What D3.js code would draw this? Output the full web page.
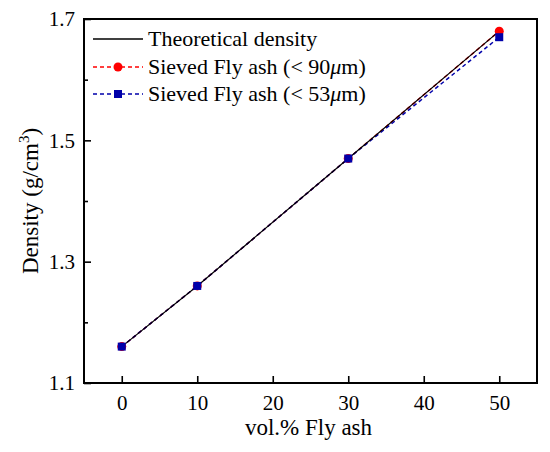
<!DOCTYPE html>
<html><head><meta charset="utf-8">
<script src="https://cdn.jsdelivr.net/npm/d3@7"></script>
<style>body{margin:0;background:#fff}svg{display:block}text{font-family:"Liberation Serif","Times New Roman",serif}</style>
</head><body><svg id="c" width="550" height="452"></svg>
<script>
const xValues = [0, 10, 30, 50];
const theoretical = [1.16, 1.26, 1.47, 1.68];
const sieved90 = [1.16, 1.26, 1.47, 1.68];
const sieved53 = [1.16, 1.26, 1.47, 1.67];
const xTicks = [0, 10, 20, 30, 40, 50];
const yTicks = [1.1, 1.3, 1.5, 1.7];
const yMinor = [1.2, 1.4, 1.6];
const legendLabels = ["Theoretical density", "Sieved Fly ash (< 90", "Sieved Fly ash (< 53"];

const svg = d3.select("#c");
const L = 84, R = 537, T = 19, B = 383;
const x = d3.scaleLinear().domain([-5, 55]).range([L, R]);
const y = d3.scaleLinear().domain([1.1, 1.7]).range([B, T]);

// frame
svg.append("rect").attr("x", L).attr("y", T).attr("width", R - L).attr("height", B - T)
  .attr("fill", "none").attr("stroke", "#000").attr("stroke-width", 2);

// x axis
const xa = svg.append("g").attr("transform", `translate(0,${B})`)
  .call(d3.axisBottom(x).tickValues(xTicks).tickSizeInner(-7).tickSizeOuter(0).tickPadding(12).tickFormat(d3.format("d")));
xa.select(".domain").remove();
xa.selectAll("line").attr("stroke-width", 1.6);
xa.selectAll("text").attr("font-size", 21).attr("fill", "#000").attr("font-family", "Liberation Serif");

const ya = svg.append("g").attr("transform", `translate(${L},0)`)
  .call(d3.axisLeft(y).tickValues(yTicks).tickSizeInner(-7).tickSizeOuter(0).tickPadding(9).tickFormat(d3.format(".1f")));
ya.select(".domain").remove();
ya.selectAll("line").attr("stroke-width", 1.6);
ya.selectAll("text").attr("font-size", 21).attr("fill", "#000").attr("font-family", "Liberation Serif");

const ym = svg.append("g").attr("transform", `translate(${L},0)`)
  .call(d3.axisLeft(y).tickValues(yMinor).tickSizeInner(-4).tickSizeOuter(0).tickFormat(""));
ym.select(".domain").remove();
ym.selectAll("line").attr("stroke-width", 1.6);

// axis labels
svg.append("text").attr("x", (L + R) / 2 - 2).attr("y", 435).attr("text-anchor", "middle")
  .attr("font-size", 23).text("vol.% Fly ash");
const yl = svg.append("text").attr("transform", `translate(38,${(T + B) / 2}) rotate(-90)`)
  .attr("text-anchor", "middle").attr("font-size", 23);
yl.append("tspan").text("Density (g/cm");
yl.append("tspan").attr("font-size", 15).attr("dy", -9).text("3");
yl.append("tspan").attr("dy", 9).text(")");

const line = d3.line().x((d, i) => x(xValues[i])).y(d => y(d));

svg.append("path").datum(sieved90).attr("d", line).attr("fill", "none")
  .attr("stroke", "#ff0000").attr("stroke-width", 1.5).attr("stroke-dasharray", "4,3");
svg.append("path").datum(sieved53).attr("d", line).attr("fill", "none")
  .attr("stroke", "#0000aa").attr("stroke-width", 1.5).attr("stroke-dasharray", "4,3");
svg.append("path").datum(theoretical).attr("d", line).attr("fill", "none")
  .attr("stroke", "#000").attr("stroke-width", 1.2);

svg.selectAll(".c90").data(sieved90).enter().append("circle")
  .attr("cx", (d, i) => x(xValues[i])).attr("cy", d => y(d)).attr("r", 4.5).attr("fill", "#ff0000");
svg.selectAll(".s53").data(sieved53).enter().append("rect")
  .attr("x", (d, i) => x(xValues[i]) - 4).attr("y", d => y(d) - 4).attr("width", 8).attr("height", 8).attr("fill", "#0000aa");

// legend
const lg = svg.append("g");
const rows = [39, 67, 94];
const lx0 = 93, lx1 = 143;
lg.append("line").attr("x1", lx0).attr("x2", lx1).attr("y1", rows[0]).attr("y2", rows[0]).attr("stroke", "#000").attr("stroke-width", 1.5);
lg.append("line").attr("x1", lx0).attr("x2", lx1).attr("y1", rows[1]).attr("y2", rows[1]).attr("stroke", "#ff0000").attr("stroke-width", 1.5).attr("stroke-dasharray", "4,3");
lg.append("circle").attr("cx", (lx0 + lx1) / 2).attr("cy", rows[1]).attr("r", 4.5).attr("fill", "#ff0000");
lg.append("line").attr("x1", lx0).attr("x2", lx1).attr("y1", rows[2]).attr("y2", rows[2]).attr("stroke", "#0000aa").attr("stroke-width", 1.5).attr("stroke-dasharray", "4,3");
lg.append("rect").attr("x", (lx0 + lx1) / 2 - 4).attr("y", rows[2] - 4).attr("width", 8).attr("height", 8).attr("fill", "#0000aa");
legendLabels.forEach((t, i) => {
  const tx = lg.append("text").attr("x", 148).attr("y", rows[i] + 7).attr("font-size", 22).text(t);
  if (i > 0) {
    tx.append("tspan").attr("font-style", "italic").text("μ");
    tx.append("tspan").text("m)");
  }
});
</script></body></html>
